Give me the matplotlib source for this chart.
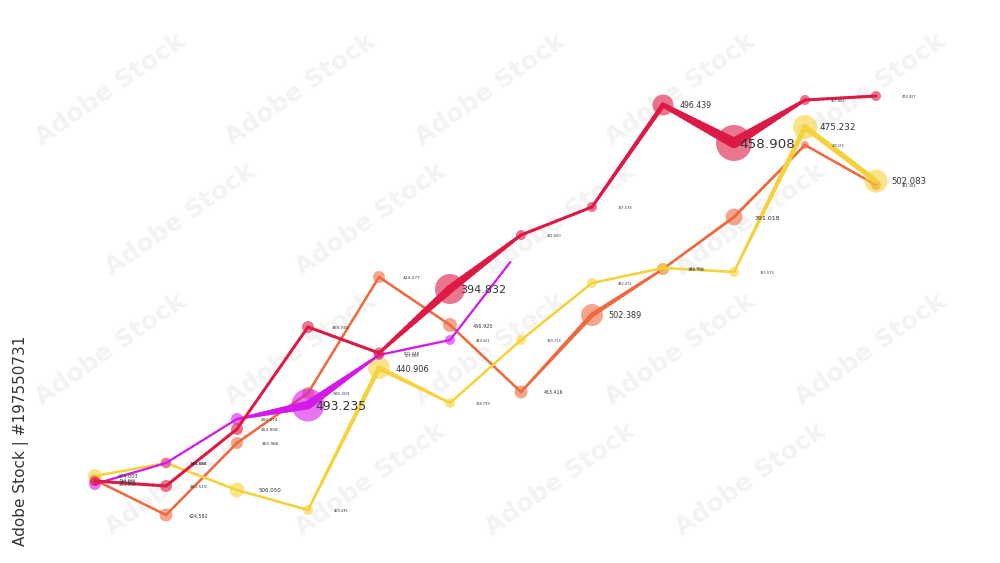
import matplotlib.pyplot as plt
from matplotlib.collections import LineCollection
import numpy as np

# level of each series at each step (higher = further up the chart)
steps = list(range(12))
red_level = [82, 77, 134, 236, 210, 274, 328, 356, 458, 420, 463, 467]
orange_level = [83, 48, 120, 170, 286, 238, 171, 248, 294, 346, 418, 378]
yellow_level = [87, 100, 73, 53, 195, 160, 223, 280, 295, 291, 436, 382]
magenta_steps = [0, 1, 2, 3, 4, 5, 5.85]   # last segment is still "growing"
magenta_level = [79, 100, 144, 158, 208, 223, 301]

# bubble weight of each point
red_weight = [5, 6, 6, 6, 5.5, 15, 5, 5, 10.5, 18, 5, 5]
orange_weight = [6, 6.5, 6, 6, 6, 7, 6.5, 11, 6, 8.5, 4, 5]
yellow_weight = [7, 6, 7.5, 5, 11, 5, 5, 5, 5, 5, 12, 11.5]
magenta_weight = [6, 5, 6, 16.5, 5, 5, 0]

red_labels = ['434.698', '493.519', '452.958', '469.740', '501.248', '394.832',
              '431.600', '397.578', '496.439', '458.908', '467.852', '474.927']
orange_labels = ['424.663', '424.582', '465.986', '506.203', '424.277', '456.925',
                 '453.416', '502.389', '392.736', '391.018', '449.279', '481.304']
yellow_labels = ['474.003', '485.584', '506.050', '469.435', '440.906', '398.799',
                 '390.713', '492.472', '380.750', '385.573', '475.232', '502.083']
magenta_labels = ['494.858', '481.868', '492.674', '493.235', '507.068', '489.421', '']

fig = plt.figure(figsize=(10, 5.63), dpi=100)
ax = fig.add_axes([0, 0, 1, 1])
ax.set_xlim(-95 / 71, 11 + 124 / 71)
ax.set_ylim(0, 563)
ax.axis('off')

# faint stock watermark pattern
for row, wy in enumerate([90, 220, 350, 480]):
    for i in range(5):
        wx = 110 + 190 * i + (row % 2) * 70
        if wx > 900:
            continue
        ax.text(wx / 71 - 95 / 71, 563 - wy, 'Adobe Stock', rotation=35,
                ha='center', va='center', fontsize=18, fontweight='bold',
                color='#f3f3f3', zorder=0)


def draw_series(xs, ys, ws, labels, color, base_lw, z):
    segs, widths = [], []
    n = 16
    for i in range(len(xs) - 1):
        t = np.linspace(0, 1, n + 1)
        sx = xs[i] + (xs[i + 1] - xs[i]) * t
        sy = ys[i] + (ys[i + 1] - ys[i]) * t
        wa = base_lw + 0.75 * max(ws[i] - 8, 0)
        wb = base_lw + 0.75 * max(ws[i + 1] - 8, 0)
        for j in range(n):
            segs.append([(sx[j], sy[j]), (sx[j + 1], sy[j + 1])])
            widths.append((wa + (wb - wa) * (j + 0.5) / n) * 0.72)
    lc = LineCollection(segs, linewidths=widths, colors=color,
                        capstyle='round', zorder=z + 0.5)
    ax.add_collection(lc)

    sizes = [(2 * w * 0.72) ** 2 for w in ws]
    ax.scatter(xs, ys, s=sizes, color=color, alpha=0.6, edgecolors='none', zorder=z)

    for x, y, w, lab in zip(xs, ys, ws, labels):
        if not lab:
            continue
        ax.annotate(lab, (x, y), xytext=(33, -1), textcoords='offset pixels',
                    ha='center', va='center', fontsize=max(0.55 * w - 0.2, 2.2),
                    color='#333333', zorder=10)


draw_series(steps, orange_level, orange_weight, orange_labels, '#EE6A3E', 2.5, 2)
draw_series(steps, yellow_level, yellow_weight, yellow_labels, '#F5D23C', 2.5, 3)
draw_series(magenta_steps, magenta_level, magenta_weight, magenta_labels, '#D41AE6', 2.2, 4)
draw_series(steps, red_level, red_weight, red_labels, '#DC1A45', 3, 5)

fig.text(0.021, 0.217, 'Adobe Stock | #197550731', rotation=90, ha='center',
         va='center', fontsize=11, color='#333333')

plt.savefig('out.png', dpi=100, facecolor='white')
